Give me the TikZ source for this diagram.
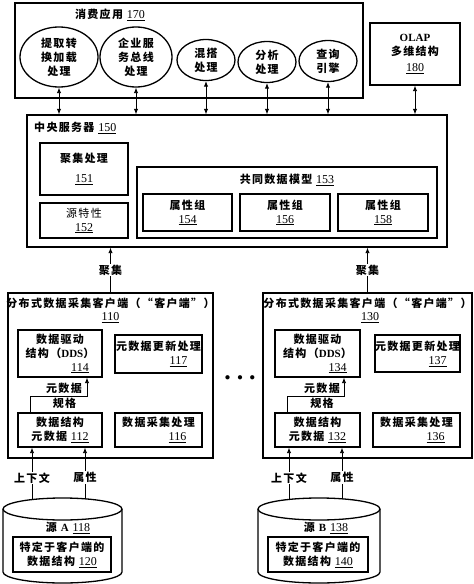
\documentclass[tikz,border=0pt]{standalone}
\usepackage{fontspec}
\setmainfont{Liberation Serif}
\newfontfamily\cjk{Noto Sans CJK SC}[LetterSpace=12]
\usetikzlibrary{arrows.meta,shapes.geometric}

\newcommand\refnum[1]{\underline{\rmfamily\mdseries\fontsize{12}{14}\selectfont #1}}
\newcommand\latin[1]{{\rmfamily\bfseries #1}}

\begin{document}
\begin{tikzpicture}
  [
    x = 1pt, y = -1pt,
    every node/.style = {font=\cjk\bfseries\fontsize{11}{14}\selectfont, align=center, inner sep=1pt},
    frame/.style = {draw, line width=1.3pt, inner sep=0},
    part/.style = {draw, line width=1.3pt, inner sep=0},
    proc/.style = {ellipse, draw, line width=1.3pt, inner sep=0},
    tag/.style = {fill=white, inner sep=1pt},
    link/.style = {line width=0.9pt},
    drum/.style = {line width=1.3pt},
    > = {Latex[length=5.5pt,width=4.5pt]},
  ]

  \useasboundingbox (0,0) rectangle (474,584);

  % consuming applications
  \node[frame, minimum width=348, minimum height=95] (apps) at (189,50.5) {};
  \node (appstitle) at (110,15) {消费应用 \refnum{170}};
  \node[proc, minimum width=78, minimum height=60] (etl)      at (59,57)  {提取转\\换加载\\处理};
  \node[proc, minimum width=72, minimum height=60] (esb)      at (136,57) {企业服\\务总线\\处理};
  \node[proc, minimum width=58, minimum height=41] (mashup)   at (206,60) {混搭\\处理};
  \node[proc, minimum width=58, minimum height=41] (analysis) at (267,62) {分析\\处理};
  \node[proc, minimum width=58, minimum height=41] (query)    at (328,61) {查询\\引擎};
  \node[frame, minimum width=90, minimum height=62] (olap) at (415,54) {\latin{OLAP}\\多维结构\\[2pt]\refnum{180}};

  % central server
  \node[frame, minimum width=420, minimum height=132] (server) at (237,181) {};
  \node[anchor=west] (servertitle) at (33,128) {中央服务器 \refnum{150}};
  \node[part, minimum width=88, minimum height=52] (aggproc) at (84,169) {聚集处理\\[6pt]\refnum{151}};
  \node[part, minimum width=88, minimum height=35, font=\cjk\fontsize{11}{14}\selectfont] (srcattr) at (84,220.5) {源特性\\\refnum{152}};
  \node[part, minimum width=300, minimum height=71] (model) at (287,202.5) {};
  \node (modeltitle) at (287,180) {共同数据模型 \refnum{153}};
  \node[part, minimum width=89, minimum height=37] (group1) at (187.5,212.5) {属性组\\\refnum{154}};
  \node[part, minimum width=90, minimum height=37] (group2) at (285,212.5)   {属性组\\\refnum{156}};
  \node[part, minimum width=90, minimum height=37] (group3) at (383,212.5)   {属性组\\\refnum{158}};

  \foreach \app in {etl,esb,mashup,analysis,query,olap}
    \draw[<->, link] (\app.south) -- (\app.south |- server.north);

  % client A
  \node[frame, minimum width=205, minimum height=165] (clientA) at (110.5,375.5) {};
  \node (clientAtitle) at (110.5,303) {分布式数据采集客户端（“客户端”）};
  \node (clientAnum) at (110.5,318) {\refnum{110}};
  \node[part, minimum width=84, minimum height=47] (ddsA)  at (60,353.5)  {数据驱动\\结构（\latin{DDS}）\\\hspace*{40pt}\refnum{114}};
  \node[part, minimum width=87, minimum height=38] (updA)  at (158.5,354) {元数据更新处理\\\hspace*{40pt}\refnum{117}};
  \node[part, minimum width=84, minimum height=34] (metaA) at (60,430)    {数据结构\\元数据 \refnum{112}};
  \node[part, minimum width=87, minimum height=34] (collA) at (158.5,430) {数据采集处理\\\hspace*{38pt}\refnum{116}};
  \draw[->, link] ([xshift=-30pt]metaA.north) -- ++(0,-16) -| ([xshift=27pt]ddsA.south);
  \node (specA1) at (64,388) {元数据};
  \node (specA2) at (64.5,403) {规格};
  \draw[->, link] (clientA.north) -- (clientA.north |- server.south) node[midway, tag] {聚集};

  \node (dots) at (240,378) {$\bullet$\hspace{7pt}$\bullet$\hspace{7pt}$\bullet$};

  % client B
  \node[frame, minimum width=209, minimum height=165] (clientB) at (367.5,375.5) {};
  \node (clientBtitle) at (367.5,303) {分布式数据采集客户端（“客户端”）};
  \node (clientBnum) at (370,318) {\refnum{130}};
  \node[part, minimum width=85, minimum height=47] (ddsB)  at (317.5,353.5) {数据驱动\\结构（\latin{DDS}）\\\hspace*{40pt}\refnum{134}};
  \node[part, minimum width=85, minimum height=37] (updB)  at (417.5,353.5) {元数据更新处理\\\hspace*{40pt}\refnum{137}};
  \node[part, minimum width=85, minimum height=34] (metaB) at (317.5,430)   {数据结构\\元数据 \refnum{132}};
  \node[part, minimum width=87, minimum height=34] (collB) at (416.5,430)   {数据采集处理\\\hspace*{38pt}\refnum{136}};
  \draw[->, link] ([xshift=-30.5pt]metaB.north) -- ++(0,-16) -| ([xshift=26.5pt]ddsB.south);
  \node (specB1) at (322,388) {元数据};
  \node (specB2) at (322,403) {规格};
  \draw[->, link] (clientB.north) -- (clientB.north |- server.south) node[midway, tag] {聚集};

  % source A
  \draw[drum] (62.5,509) ellipse [x radius=59.5, y radius=11];
  \draw[drum] (3,509) -- (3,572) arc [start angle=180, end angle=0, x radius=59.5, y radius=11] -- (122,509);
  \coordinate (ctxA) at (32,500);
  \coordinate (attrA) at (85,499);
  \draw[->, link] (ctxA) -- (ctxA |- metaA.south) node[pos=0.42, tag] {上下文};
  \draw[->, link] (attrA) -- (attrA |- metaA.south) node[pos=0.42, tag] {属性};
  \node (srcA) at (68,528) {源 \latin{A} \refnum{118}};
  \node[part, minimum width=98, minimum height=35] (dsA) at (62,554.5) {特定于客户端的\\数据结构 \refnum{120}};

  % source B
  \draw[drum] (319,509) ellipse [x radius=61, y radius=11];
  \draw[drum] (258,509) -- (258,572) arc [start angle=180, end angle=0, x radius=61, y radius=11] -- (380,509);
  \coordinate (ctxB) at (289,500);
  \coordinate (attrB) at (342,499);
  \draw[->, link] (ctxB) -- (ctxB |- metaB.south) node[pos=0.42, tag] {上下文};
  \draw[->, link] (attrB) -- (attrB |- metaB.south) node[pos=0.42, tag] {属性};
  \node (srcB) at (326,528) {源 \latin{B} \refnum{138}};
  \node[part, minimum width=100, minimum height=35] (dsB) at (318,554.5) {特定于客户端的\\数据结构 \refnum{140}};

\end{tikzpicture}
\end{document}
